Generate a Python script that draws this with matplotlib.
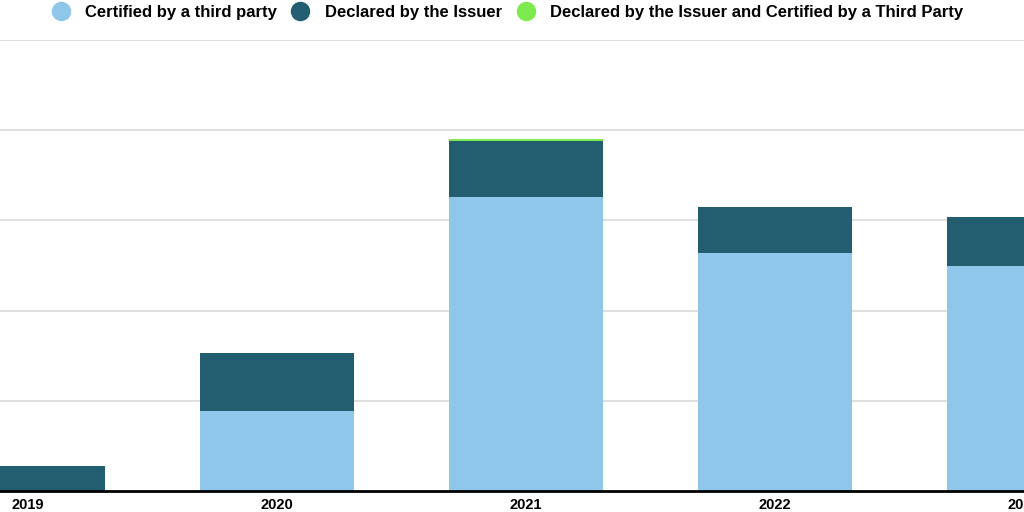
import matplotlib
matplotlib.use("Agg")
import matplotlib.pyplot as plt
from matplotlib.lines import Line2D
import numpy as np

years = ["2019", "2020", "2021", "2022", "2023"]
certified = [0.0, 0.89, 3.26, 2.64, 2.49]
declared = [0.28, 0.64, 0.62, 0.51, 0.55]
declared_certified = [0.0, 0.0, 0.02, 0.0, 0.0]

series_names = ["Certified by a third party", "Declared by the Issuer",
                "Declared by the Issuer and Certified by a Third Party"]
colors = ["#8FC7EA", "#225E70", "#7FEA4F"]

plt.rcParams['font.family'] = ['Liberation Sans', 'DejaVu Sans']

fig = plt.figure(figsize=(10.24, 5.12), dpi=100)
ax = fig.add_axes([0, 1 - 491 / 512, 1, (491 - 40) / 512])

x = np.arange(len(years))
w = 0.616
c = np.array(certified)
d = np.array(declared)
g = np.array(declared_certified)
ax.bar(x, c, w, color=colors[0], zorder=3)
ax.bar(x, d, w, bottom=c, color=colors[1], zorder=3)
ax.bar(x, g, w, bottom=c + d, color=colors[2], zorder=3)

ax.set_xlim(-0.112, 3.984)
ax.set_ylim(0, 5)
ax.set_yticks([1, 2, 3, 4, 5])
ax.yaxis.grid(True, color="#d9d9d9", linewidth=1.2, zorder=0)
ax.tick_params(axis='y', left=False, labelleft=False)
ax.set_xticks(x)
ax.set_xticklabels(years, fontsize=10.5, fontweight='bold')
ax.tick_params(axis='x', length=0, pad=5)
for s in ['top', 'right', 'left']:
    ax.spines[s].set_visible(False)
ax.spines['bottom'].set_linewidth(2)
ax.spines['bottom'].set_color('black')
ax.spines['bottom'].set_zorder(5)

handles = [Line2D([0], [0], marker='o', linestyle='none', markersize=13,
                  markerfacecolor=col, markeredgecolor=col) for col in colors]
fig.legend(handles, series_names, loc='upper center', bbox_to_anchor=(0.496, 1.019),
           ncol=3, frameon=False, prop={'weight': 'bold', 'size': 12},
           handlelength=0.9, handletextpad=1.0, columnspacing=0.98)

fig.savefig("out.png", dpi=100)
